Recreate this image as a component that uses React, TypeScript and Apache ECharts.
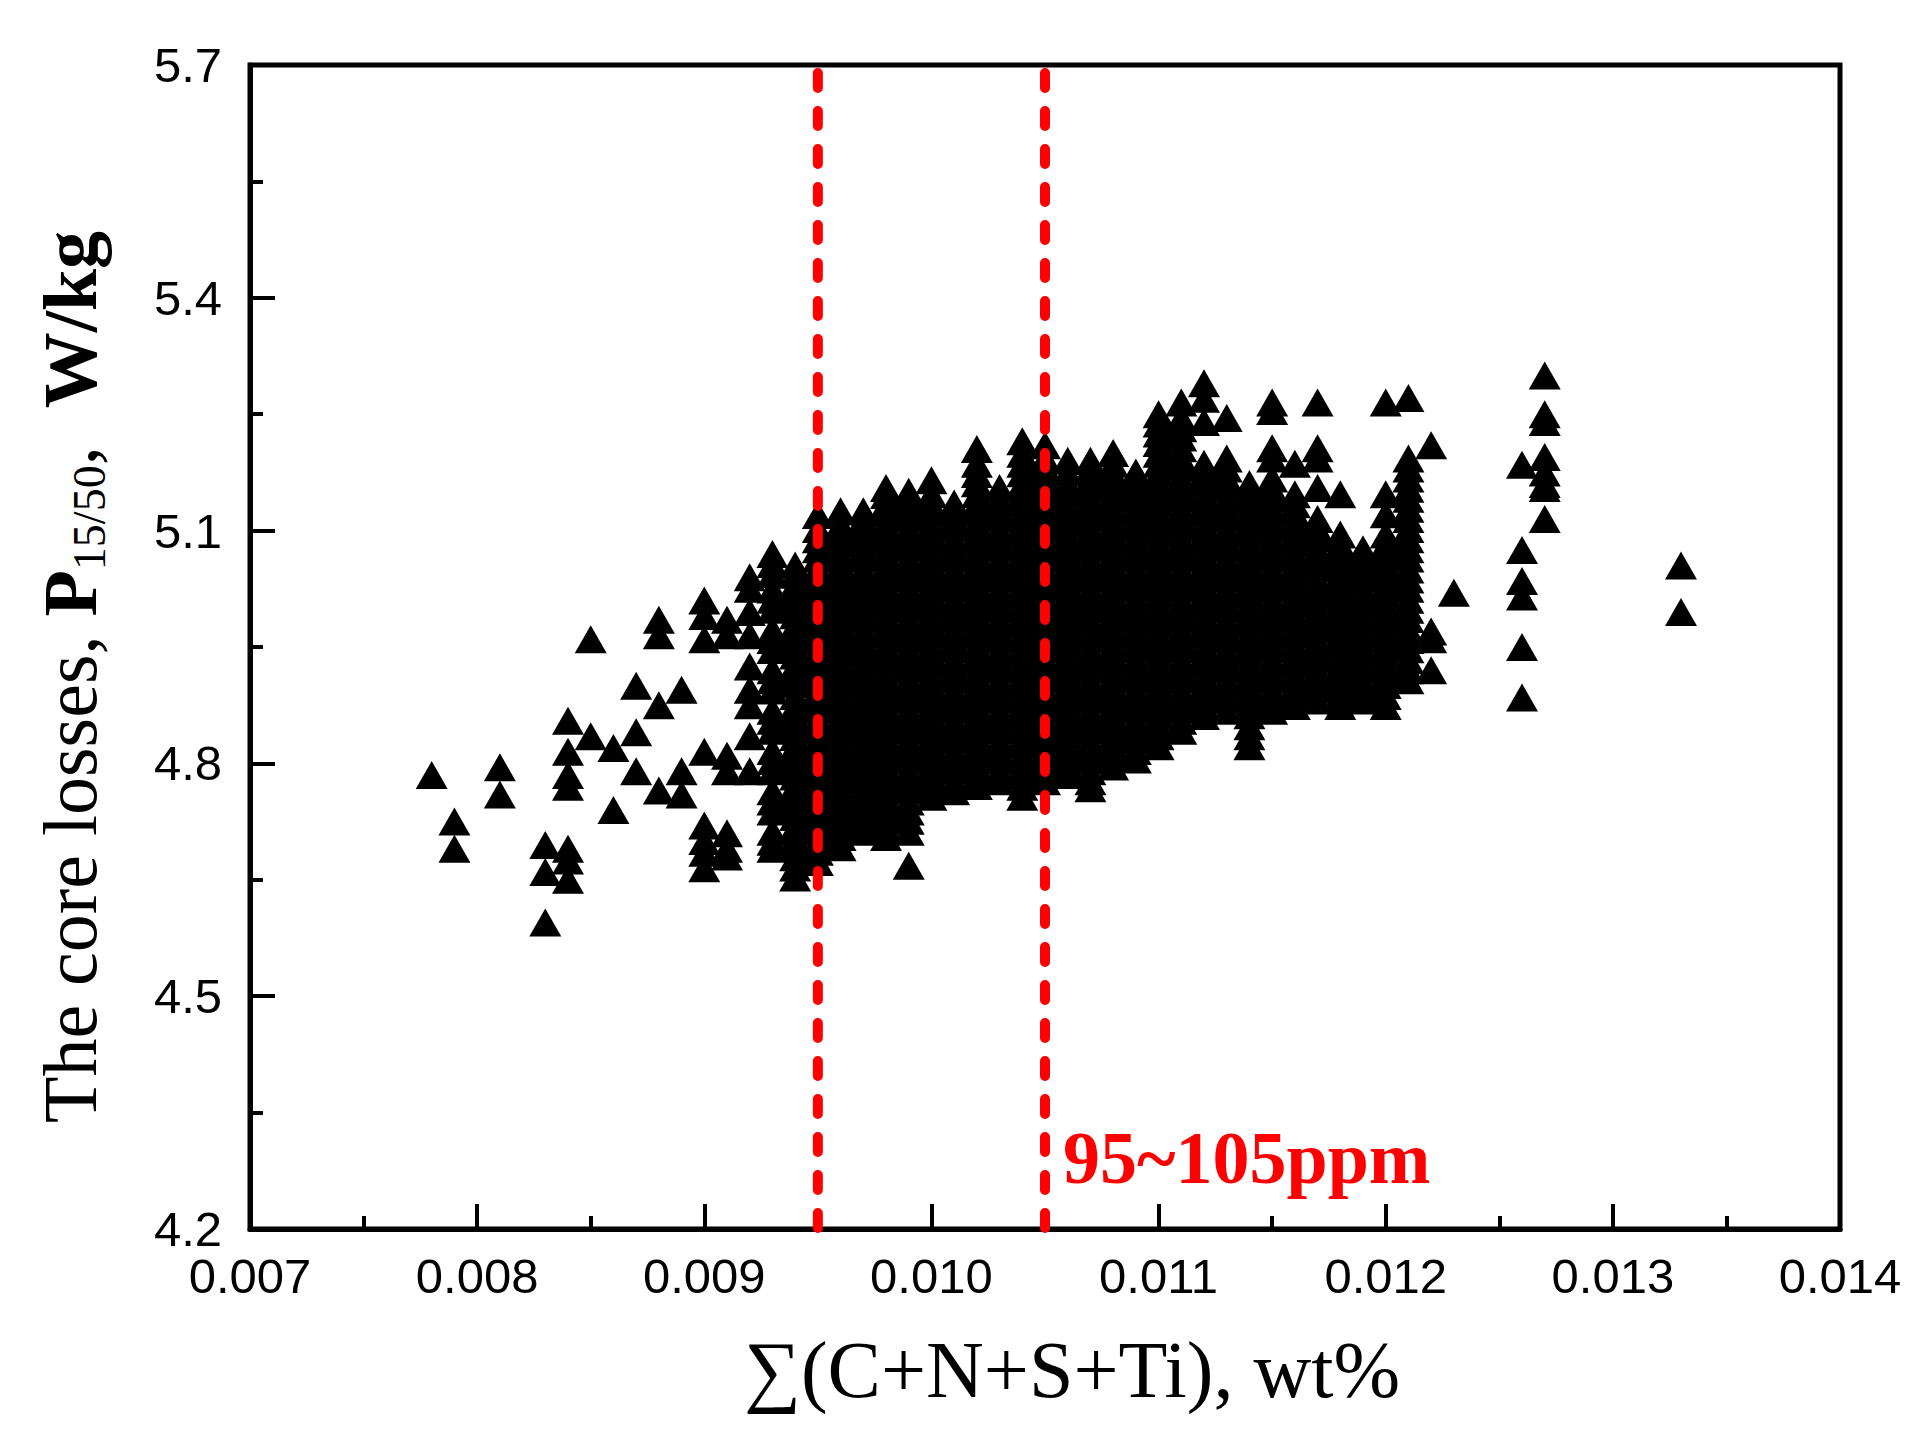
import React, { useEffect, useRef } from "react";
import * as echarts from "echarts";

// x positions (wt%) of the point columns
const xColumns = [
  0.0078, 0.0079, 0.0081, 0.0083, 0.0084, 0.0085, 0.0086, 0.0087, 0.0088, 0.0089,
  0.009, 0.0091, 0.0092, 0.0093, 0.0094, 0.0095, 0.0096, 0.0097, 0.0098, 0.0099,
  0.01, 0.0101, 0.0102, 0.0103, 0.0104, 0.0105, 0.0106, 0.0107, 0.0108, 0.0109,
  0.011, 0.0111, 0.0112, 0.0113, 0.0114, 0.0115, 0.0116, 0.0117, 0.0118, 0.0119,
  0.012, 0.0121, 0.0122, 0.0123, 0.0126, 0.0127, 0.0133,
];

// core losses P15/50 (W/kg) read for each column
const yColumns = [
  [4.785],
  [4.725, 4.69],
  [4.795, 4.76],
  [4.695, 4.66, 4.595],
  [4.855, 4.815, 4.785, 4.77, 4.69, 4.675, 4.65],
  [4.96, 4.835],
  [4.82, 4.74],
  [4.9, 4.84, 4.79],
  [4.985, 4.965, 4.875, 4.765],
  [4.895, 4.79, 4.76],
  [5.01, 4.99, 4.96, 4.815, 4.72, 4.7, 4.685, 4.665],
  [4.985, 4.965, 4.81, 4.79, 4.71, 4.69, 4.68],
  [5.04, 5.025, 4.995, 4.965, 4.925, 4.895, 4.875, 4.835, 4.79],
  [5.07, 5.057, 5.044, 5.024, 5.011, 4.998, 4.972, 4.959, 4.946, 4.92, 4.907, 4.894, 4.868, 4.855, 4.842, 4.816, 4.803, 4.79, 4.764, 4.751, 4.738, 4.712, 4.699, 4.69],
  [5.055, 5.043, 5.031, 5.017, 5.004, 4.991, 4.978, 4.963, 4.952, 4.939, 4.926, 4.913, 4.902, 4.887, 4.874, 4.861, 4.848, 4.834, 4.822, 4.809, 4.796, 4.783, 4.771, 4.757, 4.744, 4.731, 4.718, 4.703, 4.692, 4.679, 4.666, 4.653],
  [5.12, 5.102, 5.089, 5.076, 5.064, 5.05, 5.037, 5.024, 5.011, 4.998, 4.985, 4.972, 4.96, 4.946, 4.933, 4.92, 4.907, 4.894, 4.881, 4.869, 4.855, 4.842, 4.829, 4.816, 4.803, 4.79, 4.777, 4.764, 4.751, 4.738, 4.725, 4.712, 4.699, 4.686, 4.673],
  [5.125, 5.108, 5.095, 5.083, 5.069, 5.056, 5.043, 5.031, 5.017, 5.004, 4.99, 4.978, 4.965, 4.952, 4.94, 4.926, 4.913, 4.9, 4.888, 4.874, 4.861, 4.848, 4.836, 4.822, 4.809, 4.796, 4.783, 4.771, 4.757, 4.744, 4.731, 4.718, 4.705, 4.692],
  [5.125, 5.115, 5.102, 5.089, 5.076, 5.064, 5.05, 5.037, 5.024, 5.011, 4.998, 4.986, 4.972, 4.959, 4.946, 4.933, 4.92, 4.907, 4.895, 4.881, 4.868, 4.855, 4.842, 4.829, 4.816, 4.803, 4.79, 4.778, 4.764, 4.751, 4.738, 4.725, 4.712],
  [5.155, 5.146, 5.134, 5.122, 5.108, 5.095, 5.083, 5.069, 5.056, 5.044, 5.03, 5.017, 5.005, 4.991, 4.978, 4.966, 4.952, 4.939, 4.927, 4.913, 4.9, 4.888, 4.874, 4.861, 4.849, 4.835, 4.822, 4.81, 4.796, 4.783, 4.771, 4.757, 4.744, 4.732, 4.718, 4.705],
  [5.15, 5.141, 5.128, 5.116, 5.102, 5.089, 5.077, 5.063, 5.05, 5.038, 5.024, 5.011, 4.999, 4.985, 4.972, 4.96, 4.946, 4.933, 4.921, 4.907, 4.894, 4.882, 4.868, 4.855, 4.843, 4.829, 4.816, 4.804, 4.79, 4.777, 4.765, 4.751, 4.738, 4.726, 4.712, 4.668],
  [5.165, 5.147, 5.134, 5.122, 5.108, 5.095, 5.083, 5.069, 5.056, 5.044, 5.03, 5.017, 5.005, 4.991, 4.978, 4.966, 4.952, 4.939, 4.927, 4.913, 4.9, 4.888, 4.874, 4.861, 4.849, 4.835, 4.822, 4.81, 4.796, 4.783, 4.771, 4.757],
  [5.135, 5.128, 5.115, 5.103, 5.089, 5.076, 5.064, 5.05, 5.037, 5.025, 5.011, 4.998, 4.986, 4.972, 4.959, 4.947, 4.933, 4.92, 4.908, 4.894, 4.881, 4.869, 4.855, 4.842, 4.83, 4.816, 4.803, 4.791, 4.777, 4.764],
  [5.205, 5.186, 5.173, 5.161, 5.147, 5.134, 5.122, 5.108, 5.095, 5.083, 5.069, 5.056, 5.044, 5.03, 5.017, 5.005, 4.991, 4.978, 4.966, 4.952, 4.939, 4.927, 4.913, 4.9, 4.888, 4.874, 4.861, 4.849, 4.835, 4.822, 4.81, 4.796, 4.783, 4.771],
  [5.155, 5.141, 5.128, 5.116, 5.102, 5.089, 5.077, 5.063, 5.05, 5.038, 5.024, 5.011, 4.999, 4.985, 4.972, 4.96, 4.946, 4.933, 4.921, 4.907, 4.894, 4.882, 4.868, 4.855, 4.843, 4.829, 4.816, 4.804, 4.79, 4.777],
  [5.215, 5.199, 5.186, 5.174, 5.16, 5.147, 5.135, 5.121, 5.108, 5.096, 5.082, 5.069, 5.057, 5.043, 5.03, 5.018, 5.004, 4.991, 4.979, 4.965, 4.952, 4.94, 4.926, 4.913, 4.901, 4.887, 4.874, 4.862, 4.848, 4.835, 4.823, 4.809, 4.796, 4.784, 4.77, 4.757],
  [5.21, 5.193, 5.181, 5.167, 5.154, 5.142, 5.128, 5.115, 5.103, 5.089, 5.076, 5.064, 5.05, 5.037, 5.025, 5.011, 4.998, 4.986, 4.972, 4.959, 4.947, 4.933, 4.92, 4.908, 4.894, 4.881, 4.869, 4.855, 4.842, 4.83, 4.816, 4.803, 4.791, 4.777],
  [5.19, 5.175, 5.16, 5.148, 5.134, 5.121, 5.109, 5.095, 5.082, 5.07, 5.056, 5.043, 5.031, 5.017, 5.004, 4.992, 4.978, 4.965, 4.953, 4.939, 4.926, 4.914, 4.9, 4.887, 4.875, 4.861, 4.848, 4.836, 4.822, 4.809, 4.797, 4.785],
  [5.19, 5.18, 5.167, 5.155, 5.141, 5.128, 5.116, 5.102, 5.089, 5.077, 5.063, 5.05, 5.038, 5.024, 5.011, 4.999, 4.985, 4.972, 4.96, 4.946, 4.933, 4.921, 4.907, 4.894, 4.882, 4.868, 4.855, 4.843, 4.829, 4.816, 4.804, 4.79, 4.777, 4.768],
  [5.2, 5.186, 5.173, 5.161, 5.147, 5.134, 5.122, 5.108, 5.095, 5.083, 5.069, 5.056, 5.044, 5.03, 5.017, 5.005, 4.991, 4.978, 4.966, 4.952, 4.939, 4.927, 4.913, 4.9, 4.888, 4.874, 4.861, 4.849, 4.835, 4.822, 4.81, 4.796],
  [5.175, 5.167, 5.154, 5.142, 5.128, 5.115, 5.103, 5.089, 5.076, 5.064, 5.05, 5.037, 5.025, 5.011, 4.998, 4.986, 4.972, 4.959, 4.947, 4.933, 4.92, 4.908, 4.894, 4.881, 4.869, 4.855, 4.842, 4.83, 4.816, 4.805],
  [5.25, 5.238, 5.225, 5.213, 5.199, 5.186, 5.174, 5.16, 5.147, 5.135, 5.121, 5.108, 5.096, 5.082, 5.069, 5.057, 5.043, 5.03, 5.018, 5.004, 4.991, 4.979, 4.965, 4.952, 4.94, 4.926, 4.913, 4.901, 4.887, 4.874, 4.862, 4.848, 4.835, 4.822],
  [5.265, 5.245, 5.232, 5.22, 5.206, 5.193, 5.181, 5.167, 5.154, 5.142, 5.128, 5.115, 5.103, 5.089, 5.076, 5.064, 5.05, 5.037, 5.025, 5.011, 4.998, 4.986, 4.972, 4.959, 4.947, 4.933, 4.92, 4.908, 4.894, 4.881, 4.869, 4.855, 4.842],
  [5.29, 5.27, 5.24, 5.186, 5.173, 5.161, 5.147, 5.134, 5.122, 5.108, 5.095, 5.083, 5.069, 5.056, 5.044, 5.03, 5.017, 5.005, 4.991, 4.978, 4.966, 4.952, 4.939, 4.927, 4.913, 4.9, 4.888, 4.874, 4.861],
  [5.245, 5.193, 5.18, 5.167, 5.155, 5.141, 5.128, 5.116, 5.102, 5.089, 5.077, 5.063, 5.05, 5.038, 5.024, 5.011, 4.999, 4.985, 4.972, 4.96, 4.946, 4.933, 4.921, 4.907, 4.894, 4.882, 4.868],
  [5.16, 5.147, 5.135, 5.121, 5.108, 5.096, 5.082, 5.069, 5.057, 5.043, 5.03, 5.018, 5.004, 4.991, 4.979, 4.965, 4.952, 4.94, 4.926, 4.913, 4.901, 4.887, 4.874, 4.862, 4.848, 4.835, 4.822],
  [5.265, 5.254, 5.206, 5.193, 5.167, 5.154, 5.142, 5.128, 5.115, 5.103, 5.089, 5.076, 5.064, 5.05, 5.037, 5.025, 5.011, 4.998, 4.986, 4.972, 4.959, 4.947, 4.933, 4.92, 4.908, 4.894, 4.881, 4.868],
  [5.186, 5.147, 5.134, 5.122, 5.108, 5.095, 5.083, 5.069, 5.056, 5.044, 5.03, 5.017, 5.005, 4.991, 4.978, 4.966, 4.952, 4.939, 4.927, 4.913, 4.9, 4.888, 4.874],
  [5.265, 5.206, 5.193, 5.155, 5.115, 5.102, 5.09, 5.076, 5.063, 5.051, 5.037, 5.024, 5.012, 4.998, 4.985, 4.973, 4.959, 4.946, 4.934, 4.92, 4.907, 4.895, 4.881],
  [5.147, 5.095, 5.082, 5.07, 5.056, 5.043, 5.031, 5.017, 5.004, 4.992, 4.978, 4.965, 4.953, 4.939, 4.926, 4.914, 4.9, 4.887, 4.874],
  [5.076, 5.063, 5.05, 5.038, 5.024, 5.011, 4.999, 4.985, 4.972, 4.96, 4.946, 4.933, 4.921, 4.907, 4.894, 4.881],
  [5.265, 5.147, 5.121, 5.095, 5.082, 5.069, 5.057, 5.043, 5.03, 5.018, 5.004, 4.991, 4.979, 4.965, 4.952, 4.94, 4.926, 4.913, 4.901, 4.887, 4.874],
  [5.271, 5.193, 5.18, 5.167, 5.154, 5.141, 5.128, 5.115, 5.102, 5.089, 5.076, 5.064, 5.05, 5.037, 5.025, 5.011, 4.998, 4.986, 4.972, 4.959, 4.947, 4.933, 4.92, 4.907],
  [5.21, 4.97, 4.96, 4.92],
  [5.02],
  [5.185, 5.075, 5.035, 5.015, 4.95, 4.885],
  [5.3, 5.25, 5.24, 5.195, 5.175, 5.16, 5.155, 5.115],
  [5.055, 4.995],
];

// limits of the highlighted range (95~105 ppm)
const dividerX = [0.0095, 0.0105];

const xTicks = { min: 0.007, max: 0.014, interval: 0.001 };
const yTicks = { min: 4.2, max: 5.7, interval: 0.3 };

const rangeLabel = "95~105ppm";
const xTitle = "∑(C+N+S+Ti), wt%";

export default function App() {
  const ref = useRef<HTMLDivElement>(null);

  useEffect(() => {
    if (!ref.current) return;
    const chart = echarts.init(ref.current, undefined, { renderer: "svg" });
    const points: number[][] = [];
    xColumns.forEach((x, i) => {
      yColumns[i].forEach((y) => points.push([x, y]));
    });

    const sans = "'Liberation Sans', Arial, sans-serif";
    const serif = "'Liberation Serif', 'Times New Roman', serif";
    const tickStyle = { color: "#000", width: 4 };

    const dividerSeries = dividerX.map((v) => ({
      type: "line",
      data: [
        [v, yTicks.max],
        [v, yTicks.min],
      ],
      showSymbol: false,
      symbol: "none",
      silent: true,
      z: 10,
      lineStyle: { color: "#ff0000", width: 10, type: [15, 23], dashOffset: -8, cap: "round" },
      emphasis: { disabled: true },
    }));

    chart.setOption({
      animation: false,
      backgroundColor: "#fff",
      grid: {
        left: 250,
        right: 84,
        top: 65,
        bottom: 204,
        show: true,
        borderColor: "#000",
        borderWidth: 5,
        backgroundColor: "transparent",
      },
      xAxis: {
        type: "value",
        min: xTicks.min,
        max: xTicks.max,
        interval: xTicks.interval,
        axisLine: { show: true, lineStyle: { color: "#000", width: 5 } },
        axisTick: { show: true, inside: true, length: 25, lineStyle: tickStyle },
        minorTick: { show: true, splitNumber: 2, length: 13, lineStyle: tickStyle },
        splitLine: { show: false },
        axisLabel: {
          show: true,
          margin: 22,
          fontSize: 49,
          color: "#000",
          fontFamily: sans,
          formatter: (v: number) => v.toFixed(3),
        },
      },
      yAxis: {
        type: "value",
        min: yTicks.min,
        max: yTicks.max,
        interval: yTicks.interval,
        axisLine: { show: true, lineStyle: { color: "#000", width: 5 } },
        axisTick: { show: true, inside: true, length: 25, lineStyle: tickStyle },
        minorTick: { show: true, splitNumber: 2, length: 13, lineStyle: tickStyle },
        splitLine: { show: false },
        axisLabel: {
          show: true,
          margin: 28,
          fontSize: 49,
          color: "#000",
          fontFamily: sans,
          formatter: (v: number) => v.toFixed(1),
        },
      },
      series: [
        {
          type: "scatter",
          data: points,
          symbol: "triangle",
          symbolSize: [32, 28],
          itemStyle: { color: "#000", opacity: 1 },
          emphasis: { disabled: true },
          z: 2,
        },
        ...dividerSeries,
      ],
      graphic: [
        {
          type: "text",
          x: 1063,
          y: 1158,
          z: 20,
          style: {
            text: rangeLabel,
            fill: "#ff0000",
            font: `bold 74px ${serif}`,
            textAlign: "left",
            textVerticalAlign: "middle",
          },
        },
        {
          type: "text",
          x: 1072,
          y: 1370,
          style: {
            text: xTitle,
            fill: "#000",
            font: `80px ${serif}`,
            textAlign: "center",
            textVerticalAlign: "middle",
          },
        },
        {
          type: "text",
          x: 70,
          y: 677,
          rotation: Math.PI / 2,
          style: {
            text: "{a|The core losses, }{p|P}{s|15/50}{a|,  }{b|W/kg}",
            textAlign: "center",
            textVerticalAlign: "middle",
            fill: "#000",
            rich: {
              a: { fontFamily: serif, fontSize: 76, lineHeight: 84, fill: "#000" },
              p: { fontFamily: serif, fontSize: 76, fontWeight: "bold", lineHeight: 84, fill: "#000" },
              s: {
                fontFamily: serif,
                fontSize: 46,
                lineHeight: 48,
                verticalAlign: "bottom",
                fill: "#000",
              },
              b: { fontFamily: serif, fontSize: 76, fontWeight: "bold", lineHeight: 84, fill: "#000" },
            },
          },
        },
      ],
    });

    return () => {
      chart.dispose();
    };
  }, []);

  return (
    <div
      ref={ref}
      style={{ position: "absolute", left: 0, top: 0, width: 1924, height: 1433, background: "#fff" }}
    />
  );
}
